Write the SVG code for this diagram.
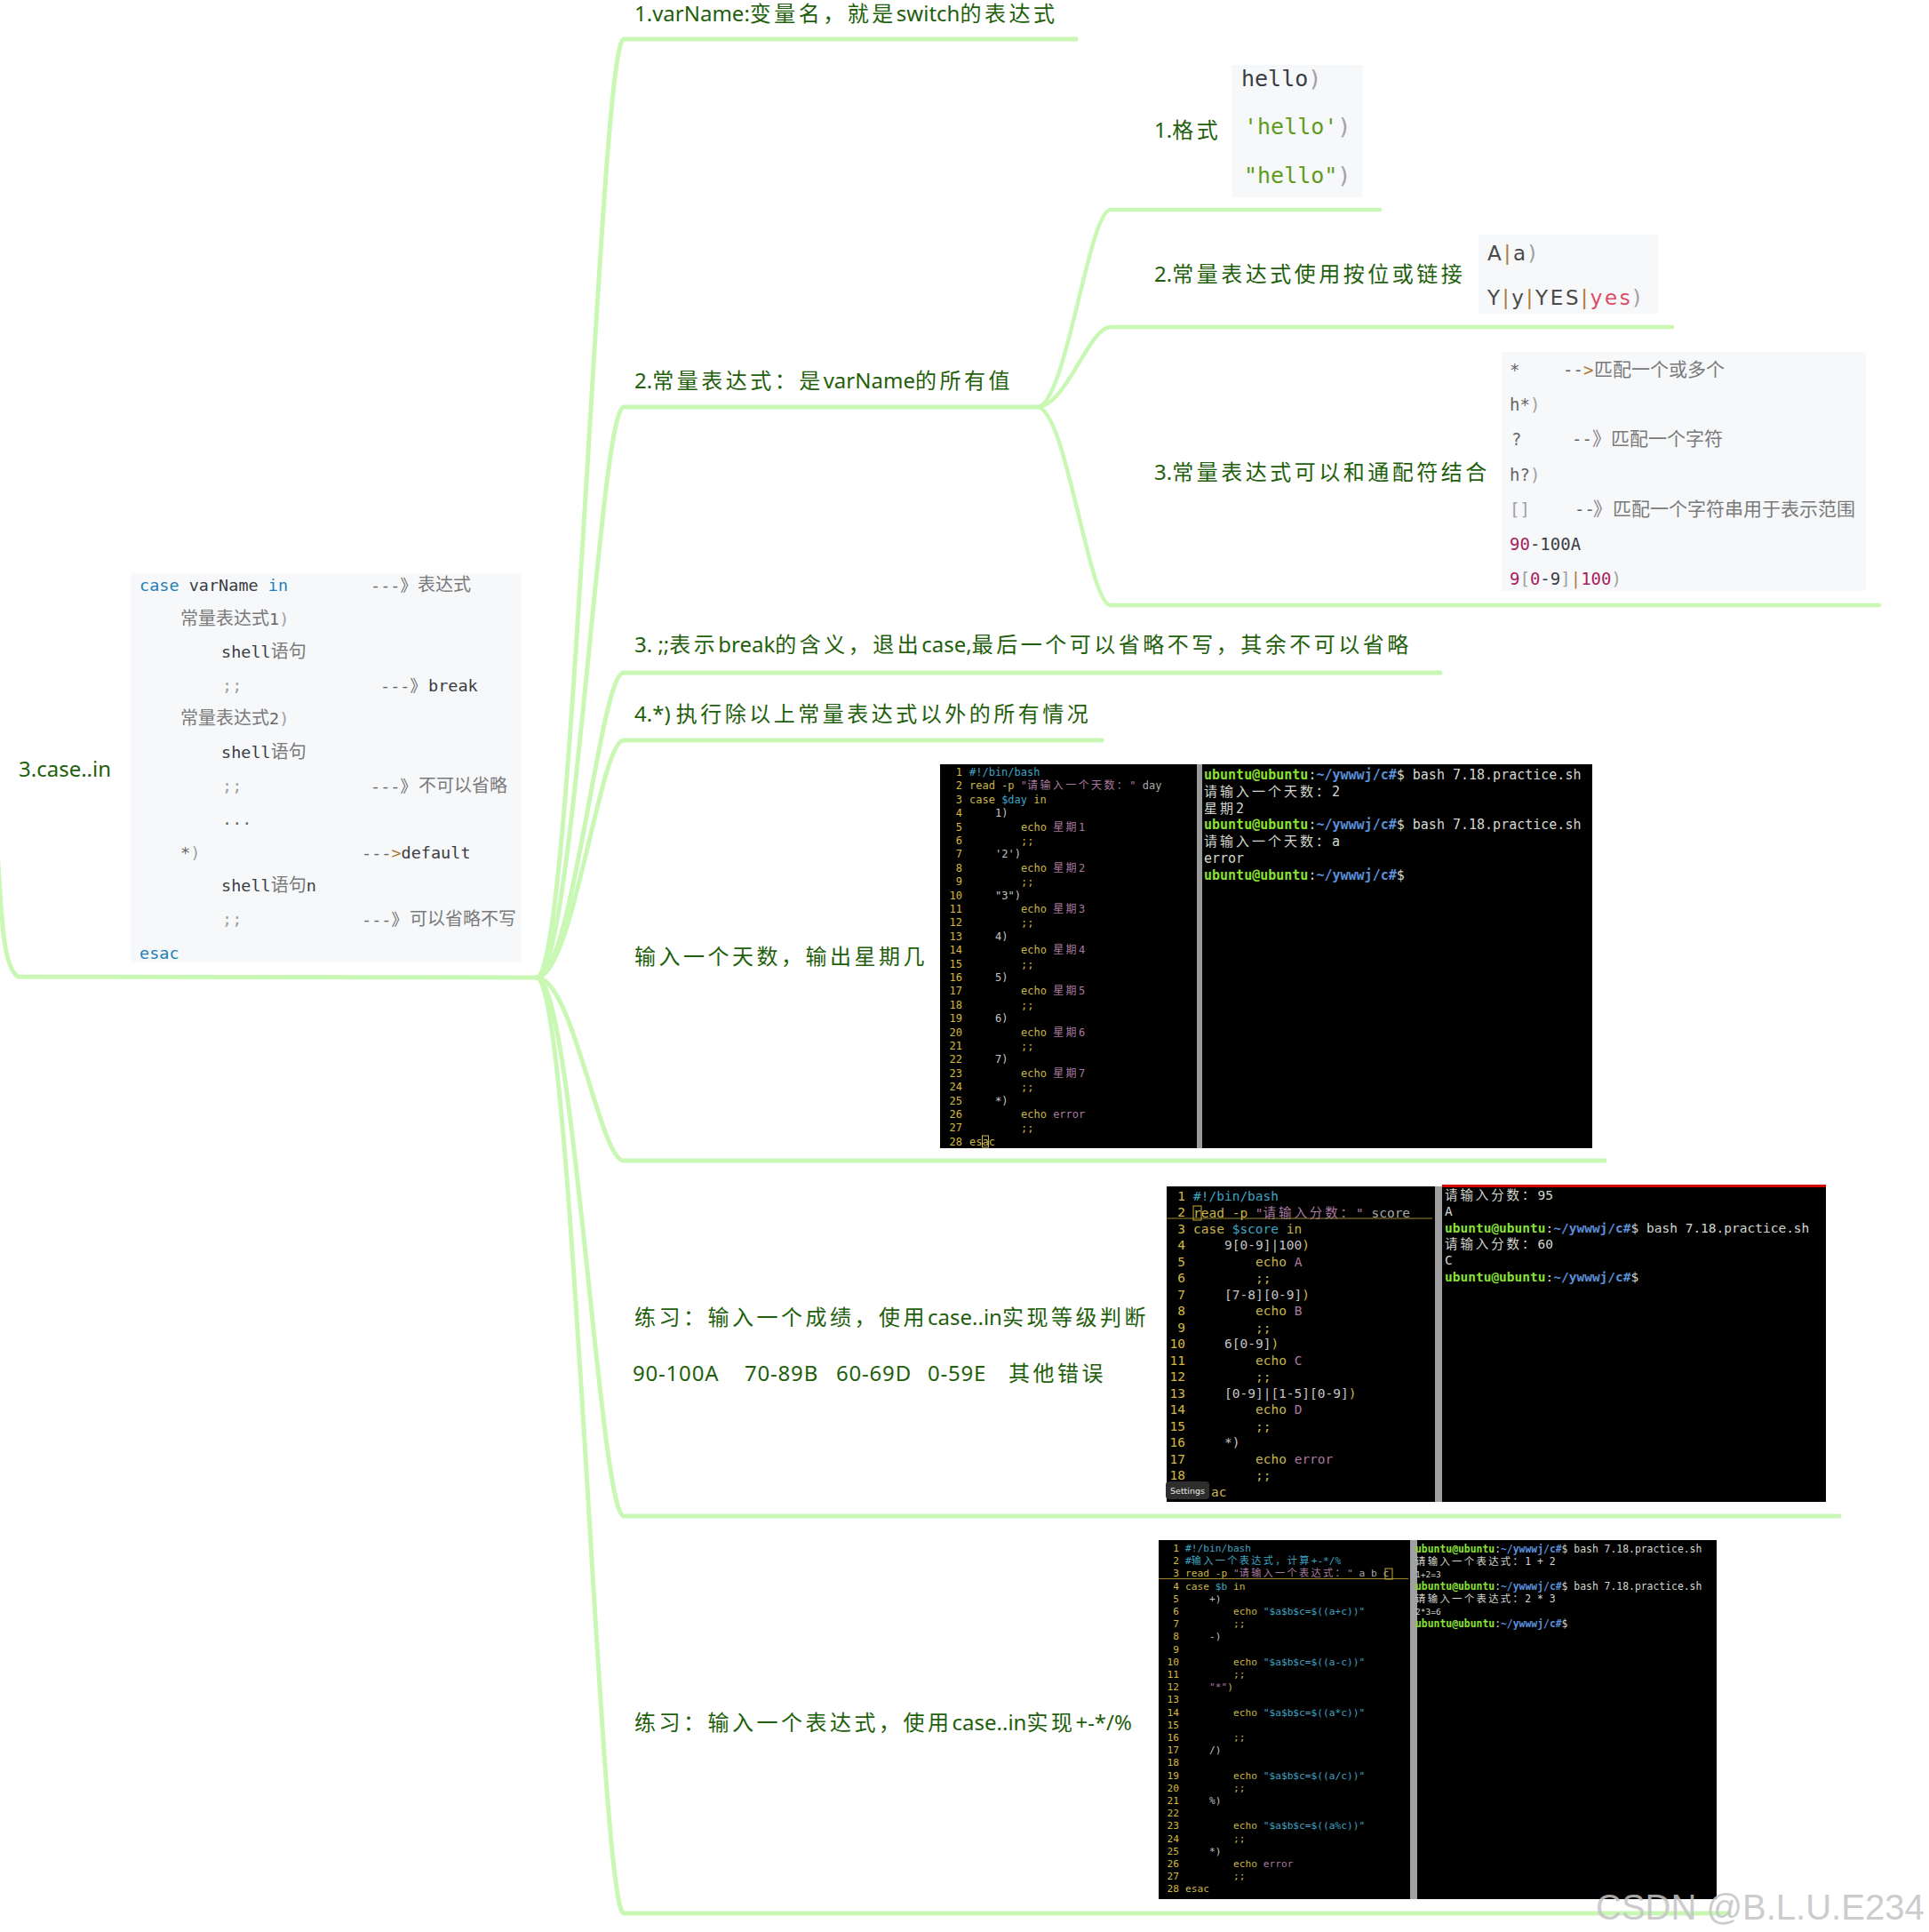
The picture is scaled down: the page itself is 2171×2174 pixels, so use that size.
<svg xmlns="http://www.w3.org/2000/svg" width="2171" height="2174" viewBox="0 0 2171 2174">
<style>
.g{fill:none;stroke:#c8f8b4;stroke-width:5;stroke-linecap:round;stroke-linejoin:round}
.gs{fill:none;stroke:#c8f8b4;stroke-width:4.5;stroke-linecap:round}
.lbl{font-family:"Noto Sans","Noto Sans CJK SC",sans-serif;font-size:24px;fill:#1f600c}
.cj{letter-spacing:3.5px}
.box{fill:#f7f8fa}
.mono{font-family:"DejaVu Sans Mono","Noto Sans CJK SC",monospace}
.zh{font-family:"Noto Sans CJK SC",sans-serif;fill:#7a7a7a}
.dk{fill:#3a3d44}.lg{fill:#a0a0a0}.bl{fill:#1f7fb8}.gr{fill:#666}.br{fill:#b07a3a}.mg{fill:#a8205f}.gn{fill:#5f9b1d}.rd{fill:#dc4a63}
.term{fill:#000}
.tg{fill:#8ae234;font-weight:bold}.tb{fill:#5a8fd8;font-weight:bold}.tw{fill:#d3d7cf}
.vl{fill:#d6b93e}.vk{fill:#c9b54a}.vc{fill:#3ea4c4}.vs{fill:#a9799f}.vg{fill:#a8a8a8}.vp{fill:#c4c4c4}
.t1{font-size:12px}.t1r{font-size:15px}.t2{font-size:14.5px}.t3{font-size:11.2px}.t3r{font-size:11.4px}
.c12{letter-spacing:2.4px}.c15{letter-spacing:3px}.c145{letter-spacing:2.9px}.c11{letter-spacing:2.3px}
</style>
<g id="connectors">
<path class="g" d="M-3,955 C2,1040 4,1088 20,1099 L604,1100"/>
<path class="g" d="M604,1100 C645,1100 675,44 702,44 L1211,44"/>
<path class="g" d="M604,1100 C645,1100 675,458 702,458 L1167,458"/>
<path class="g" d="M604,1100 C645,1100 675,757 702,757 L1621,757"/>
<path class="g" d="M604,1100 C645,1100 675,833 702,833 L1240,833"/>
<path class="g" d="M604,1100 C645,1100 675,1306 702,1306 L1806,1306"/>
<path class="g" d="M604,1100 C645,1100 675,1706 702,1706 L2070,1706"/>
<path class="g" d="M604,1100 C645,1100 675,2153 702,2153 L1946,2153"/>
<path class="gs" d="M1167,458 C1200,458 1225,236 1250,236 L1553,236"/>
<path class="gs" d="M1167,458 C1200,458 1225,368 1250,368 L1882,368"/>
<path class="gs" d="M1167,458 C1200,458 1225,681 1250,681 L2115,681"/>
</g>

<g id="root">
<text class="lbl" x="21" y="874" font-size="25">3.case..in</text>
<rect class="box" x="147" y="645" width="440" height="438"/>
<g class="mono" font-size="18.5" xml:space="preserve">
<text x="157" y="665"><tspan class="bl">case</tspan><tspan class="dk"> varName </tspan><tspan class="bl">in</tspan></text>
<text x="417" y="665" class="gr">---》</text><text x="470" y="665" class="zh" font-size="20">表达式</text>
<text x="203" y="702.6"><tspan class="zh" font-size="20">常量表达式</tspan><tspan class="gr">1</tspan><tspan class="lg">)</tspan></text>
<text x="249" y="740.2"><tspan class="dk">shell</tspan><tspan class="zh" font-size="20">语句</tspan></text>
<text x="250" y="777.8" class="lg">;;</text><text x="428" y="777.8" class="gr">---》</text><text x="482" y="777.8" class="dk">break</text>
<text x="203" y="815.4"><tspan class="zh" font-size="20">常量表达式</tspan><tspan class="gr">2</tspan><tspan class="lg">)</tspan></text>
<text x="249" y="853"><tspan class="dk">shell</tspan><tspan class="zh" font-size="20">语句</tspan></text>
<text x="250" y="890.6" class="lg">;;</text><text x="417" y="890.6" class="gr">---》</text><text x="471" y="890.6" class="zh" font-size="20">不可以省略</text>
<text x="250" y="928.2" class="gr">...</text>
<text x="203" y="965.8"><tspan class="gr">*</tspan><tspan class="lg">)</tspan></text><text x="407" y="965.8"><tspan class="gr">---</tspan><tspan class="br">&gt;</tspan><tspan class="dk">default</tspan></text>
<text x="249" y="1003.4"><tspan class="dk">shell</tspan><tspan class="zh" font-size="20">语句</tspan><tspan class="dk">n</tspan></text>
<text x="250" y="1041" class="lg">;;</text><text x="407" y="1041" class="gr">---》</text><text x="461" y="1041" class="zh" font-size="20">可以省略不写</text>
<text x="157" y="1078.6" class="bl">esac</text>
</g>
</g>

<g id="c1">
<text class="lbl" x="714" y="24">1.varName:<tspan class="cj">变量名，就是</tspan>switch<tspan class="cj">的表达式</tspan></text>
</g>

<g id="c2">
<text class="lbl" x="714" y="437">2.<tspan class="cj">常量表达式：是</tspan>varName<tspan class="cj">的所有值</tspan></text>
</g>

<g id="s1">
<text class="lbl" x="1299" y="155">1.<tspan class="cj">格式</tspan></text>
<rect class="box" x="1386" y="73" width="148" height="149"/>
<g class="mono" font-size="25" xml:space="preserve">
<text x="1397" y="97"><tspan class="dk">hello</tspan><tspan class="lg">)</tspan></text>
<text x="1400" y="151"><tspan class="gn">'hello'</tspan><tspan class="lg">)</tspan></text>
<text x="1400" y="206"><tspan class="gn">"hello"</tspan><tspan class="lg">)</tspan></text>
</g>
</g>

<g id="s2">
<text class="lbl" x="1299" y="317">2.<tspan class="cj">常量表达式使用按位或链接</tspan></text>
<rect class="box" x="1664" y="264" width="202" height="89"/>
<g font-family="DejaVu Sans,sans-serif" font-size="23" letter-spacing="2.7">
<text x="1674" y="293"><tspan fill="#4a4a4a">A</tspan><tspan class="br">|</tspan><tspan fill="#4a4a4a">a</tspan><tspan class="lg">)</tspan></text>
<text x="1674" y="343"><tspan fill="#4a4a4a">Y</tspan><tspan class="br">|</tspan><tspan fill="#4a4a4a">y</tspan><tspan class="br">|</tspan><tspan fill="#4a4a4a">YES</tspan><tspan class="br">|</tspan><tspan class="rd">yes</tspan><tspan class="lg">)</tspan></text>
</g>
</g>

<g id="s3">
<text class="lbl" x="1299" y="540">3.<tspan class="cj">常量表达式可以和通配符结合</tspan></text>
<rect class="box" x="1690" y="396" width="410" height="269"/>
<g class="mono" font-size="19" xml:space="preserve">
<text x="1699" y="423" class="gr">*</text><text x="1759" y="423"><tspan class="gr">--</tspan><tspan class="br">&gt;</tspan></text><text x="1794" y="423" class="zh" font-size="21">匹配一个或多个</text>
<text x="1699" y="462.2"><tspan class="gr">h*</tspan><tspan class="lg">)</tspan></text>
<text x="1701" y="501.4" class="gr">?</text><text x="1769" y="501.4" class="gr">--</text><text x="1792" y="501.4" class="zh" font-size="21">》</text><text x="1813" y="501.4" class="zh" font-size="21">匹配一个字符</text>
<text x="1699" y="540.6"><tspan class="gr">h?</tspan><tspan class="lg">)</tspan></text>
<text x="1699" y="579.8" class="lg">[]</text><text x="1772" y="579.8" class="gr">--</text><text x="1793" y="579.8" class="zh" font-size="21">》</text><text x="1815" y="579.8" class="zh" font-size="21">匹配一个字符串用于表示范围</text>
<text x="1699" y="619"><tspan class="mg">90</tspan><tspan class="dk">-100A</tspan></text>
<text x="1699" y="658.2"><tspan class="mg">9</tspan><tspan class="lg">[</tspan><tspan class="mg">0</tspan><tspan class="dk">-9</tspan><tspan class="lg">]</tspan><tspan class="br">|</tspan><tspan class="mg">100</tspan><tspan class="lg">)</tspan></text>
</g>
</g>

<g id="c3">
<text class="lbl" x="714" y="734">3. ;;<tspan class="cj">表示</tspan>break<tspan class="cj">的含义，退出</tspan>case,<tspan class="cj">最后一个可以省略不写，其余不可以省略</tspan></text>
</g>

<g id="c4">
<text class="lbl" x="714" y="812">4.*) <tspan class="cj">执行除以上常量表达式以外的所有情况</tspan></text>
</g>

<g id="c5">
<text class="lbl" x="714" y="1085"><tspan class="cj">输入一个天数，输出星期几</tspan></text>
<rect class="term" x="1058" y="860" width="734" height="432"/>
<rect x="1347" y="860" width="6" height="432" fill="#9a9a9a"/>
<g class="mono t1" xml:space="preserve">
<text class="vl" text-anchor="end"><tspan x="1083" y="873">1</tspan><tspan x="1083" dy="15.4">2</tspan><tspan x="1083" dy="15.4">3</tspan><tspan x="1083" dy="15.4">4</tspan><tspan x="1083" dy="15.4">5</tspan><tspan x="1083" dy="15.4">6</tspan><tspan x="1083" dy="15.4">7</tspan><tspan x="1083" dy="15.4">8</tspan><tspan x="1083" dy="15.4">9</tspan><tspan x="1083" dy="15.4">10</tspan><tspan x="1083" dy="15.4">11</tspan><tspan x="1083" dy="15.4">12</tspan><tspan x="1083" dy="15.4">13</tspan><tspan x="1083" dy="15.4">14</tspan><tspan x="1083" dy="15.4">15</tspan><tspan x="1083" dy="15.4">16</tspan><tspan x="1083" dy="15.4">17</tspan><tspan x="1083" dy="15.4">18</tspan><tspan x="1083" dy="15.4">19</tspan><tspan x="1083" dy="15.4">20</tspan><tspan x="1083" dy="15.4">21</tspan><tspan x="1083" dy="15.4">22</tspan><tspan x="1083" dy="15.4">23</tspan><tspan x="1083" dy="15.4">24</tspan><tspan x="1083" dy="15.4">25</tspan><tspan x="1083" dy="15.4">26</tspan><tspan x="1083" dy="15.4">27</tspan><tspan x="1083" dy="15.4">28</tspan></text>
<text x="1091" y="873" class="vc">#!/bin/bash</text>
<text x="1091" y="888.4"><tspan class="vk">read -p </tspan><tspan class="vs">"<tspan class="c12">请输入一个天数：</tspan>"</tspan><tspan class="vg"> day</tspan></text>
<text x="1091" y="903.8"><tspan class="vk">case </tspan><tspan class="vc">$day</tspan><tspan class="vk"> in</tspan></text>
<text x="1120" y="919.2" class="vp">1)</text>
<text x="1149" y="934.6"><tspan class="vk">echo </tspan><tspan class="vs"><tspan class="c12">星期</tspan>1</tspan></text>
<text x="1149" y="950" class="vk">;;</text>
<text x="1120" y="965.4" class="vp">'2')</text>
<text x="1149" y="980.8"><tspan class="vk">echo </tspan><tspan class="vs"><tspan class="c12">星期</tspan>2</tspan></text>
<text x="1149" y="996.2" class="vk">;;</text>
<text x="1120" y="1011.6" class="vp">"3")</text>
<text x="1149" y="1027"><tspan class="vk">echo </tspan><tspan class="vs"><tspan class="c12">星期</tspan>3</tspan></text>
<text x="1149" y="1042.4" class="vk">;;</text>
<text x="1120" y="1057.8" class="vp">4)</text>
<text x="1149" y="1073.2"><tspan class="vk">echo </tspan><tspan class="vs"><tspan class="c12">星期</tspan>4</tspan></text>
<text x="1149" y="1088.6" class="vk">;;</text>
<text x="1120" y="1104" class="vp">5)</text>
<text x="1149" y="1119.4"><tspan class="vk">echo </tspan><tspan class="vs"><tspan class="c12">星期</tspan>5</tspan></text>
<text x="1149" y="1134.8" class="vk">;;</text>
<text x="1120" y="1150.2" class="vp">6)</text>
<text x="1149" y="1165.6"><tspan class="vk">echo </tspan><tspan class="vs"><tspan class="c12">星期</tspan>6</tspan></text>
<text x="1149" y="1181" class="vk">;;</text>
<text x="1120" y="1196.4" class="vp">7)</text>
<text x="1149" y="1211.8"><tspan class="vk">echo </tspan><tspan class="vs"><tspan class="c12">星期</tspan>7</tspan></text>
<text x="1149" y="1227.2" class="vk">;;</text>
<text x="1120" y="1242.6" class="vp">*)</text>
<text x="1149" y="1258"><tspan class="vk">echo </tspan><tspan class="vs">error</tspan></text>
<text x="1149" y="1273.4" class="vk">;;</text>
<text x="1091" y="1288.8" class="vk">esac</text>
<rect x="1105.5" y="1278" width="7" height="13" fill="none" stroke="#c9b54a" stroke-width="1"/>
</g>
<g class="mono t1r" xml:space="preserve">
<text x="1355" y="877"><tspan class="tg">ubuntu@ubuntu</tspan><tspan class="tw">:</tspan><tspan class="tb">~/ywwwj/c#</tspan><tspan class="tw">$ bash 7.18.practice.sh</tspan></text>
<text x="1355" y="895.8" class="tw"><tspan class="c15">请输入一个天数：</tspan>2</text>
<text x="1355" y="914.6" class="tw"><tspan class="c15">星期</tspan>2</text>
<text x="1355" y="933.4"><tspan class="tg">ubuntu@ubuntu</tspan><tspan class="tw">:</tspan><tspan class="tb">~/ywwwj/c#</tspan><tspan class="tw">$ bash 7.18.practice.sh</tspan></text>
<text x="1355" y="952.2" class="tw"><tspan class="c15">请输入一个天数：</tspan>a</text>
<text x="1355" y="971" class="tw">error</text>
<text x="1355" y="989.8"><tspan class="tg">ubuntu@ubuntu</tspan><tspan class="tw">:</tspan><tspan class="tb">~/ywwwj/c#</tspan><tspan class="tw">$</tspan></text>
</g>
</g>

<g id="c6">
<text class="lbl" x="714" y="1491"><tspan class="cj">练习：输入一个成绩，使用</tspan>case..in<tspan class="cj">实现等级判断</tspan></text>
<text class="lbl" y="1554" font-size="26" letter-spacing="0.8"><tspan x="712">90-100A</tspan><tspan x="838">70-89B</tspan><tspan x="941">60-69D</tspan><tspan x="1044">0-59E</tspan><tspan x="1135" font-size="24" class="cj">其他错误</tspan></text>
<rect class="term" x="1313" y="1335" width="742" height="355"/>
<rect x="1615" y="1335" width="8" height="355" fill="#a0a0a0"/>
<rect x="1623" y="1333" width="432" height="3" fill="#d40000"/>
<line x1="1313" y1="1371" x2="1612" y2="1371" stroke="#9c8a2c" stroke-width="1.2"/>
<g class="mono t2" xml:space="preserve">
<text class="vl" text-anchor="end"><tspan x="1334" y="1351">1</tspan><tspan x="1334" dy="18.48">2</tspan><tspan x="1334" dy="18.48">3</tspan><tspan x="1334" dy="18.48">4</tspan><tspan x="1334" dy="18.48">5</tspan><tspan x="1334" dy="18.48">6</tspan><tspan x="1334" dy="18.48">7</tspan><tspan x="1334" dy="18.48">8</tspan><tspan x="1334" dy="18.48">9</tspan><tspan x="1334" dy="18.48">10</tspan><tspan x="1334" dy="18.48">11</tspan><tspan x="1334" dy="18.48">12</tspan><tspan x="1334" dy="18.48">13</tspan><tspan x="1334" dy="18.48">14</tspan><tspan x="1334" dy="18.48">15</tspan><tspan x="1334" dy="18.48">16</tspan><tspan x="1334" dy="18.48">17</tspan><tspan x="1334" dy="18.48">18</tspan></text>
<text x="1343" y="1351" class="vc">#!/bin/bash</text>
<text x="1343" y="1369.5"><tspan class="vk">read -p </tspan><tspan class="vs">"<tspan class="c145">请输入分数：</tspan>"</tspan><tspan class="vg"> score</tspan></text>
<rect x="1343" y="1357" width="9" height="16" fill="none" stroke="#c9a83c" stroke-width="1"/>
<text x="1343" y="1388"><tspan class="vk">case </tspan><tspan class="vc">$score</tspan><tspan class="vk"> in</tspan></text>
<text x="1378" y="1406.4"><tspan class="vp">9[0-9]|100</tspan><tspan class="vk">)</tspan></text>
<text x="1413" y="1424.9"><tspan class="vk">echo </tspan><tspan class="vs">A</tspan></text>
<text x="1413" y="1443.4" class="vk">;;</text>
<text x="1378" y="1461.9"><tspan class="vp">[7-8][0-9]</tspan><tspan class="vk">)</tspan></text>
<text x="1413" y="1480.4"><tspan class="vk">echo </tspan><tspan class="vs">B</tspan></text>
<text x="1413" y="1498.8" class="vk">;;</text>
<text x="1378" y="1517.3"><tspan class="vp">6[0-9]</tspan><tspan class="vk">)</tspan></text>
<text x="1413" y="1535.8"><tspan class="vk">echo </tspan><tspan class="vs">C</tspan></text>
<text x="1413" y="1554.3" class="vk">;;</text>
<text x="1378" y="1572.8"><tspan class="vp">[0-9]|[1-5][0-9]</tspan><tspan class="vk">)</tspan></text>
<text x="1413" y="1591.2"><tspan class="vk">echo </tspan><tspan class="vs">D</tspan></text>
<text x="1413" y="1609.7" class="vk">;;</text>
<text x="1378" y="1628.2" class="vp">*)</text>
<text x="1413" y="1646.7"><tspan class="vk">echo </tspan><tspan class="vs">error</tspan></text>
<text x="1413" y="1665.2" class="vk">;;</text>
<text x="1363" y="1683.6" class="vk">ac</text>
</g>
<rect x="1312" y="1667" width="49" height="20" rx="4" fill="#2e2e2e"/>
<text x="1317" y="1680.5" font-family="DejaVu Sans,sans-serif" font-size="9.5" fill="#e8e8e8">Settings</text>
<g class="mono t2" xml:space="preserve">
<text x="1626" y="1350" class="tw"><tspan class="c145">请输入分数：</tspan>95</text>
<text x="1626" y="1368.3" class="tw">A</text>
<text x="1626" y="1386.6"><tspan class="tg">ubuntu@ubuntu</tspan><tspan class="tw">:</tspan><tspan class="tb">~/ywwwj/c#</tspan><tspan class="tw">$ bash 7.18.practice.sh</tspan></text>
<text x="1626" y="1404.9" class="tw"><tspan class="c145">请输入分数：</tspan>60</text>
<text x="1626" y="1423.2" class="tw">C</text>
<text x="1626" y="1441.5"><tspan class="tg">ubuntu@ubuntu</tspan><tspan class="tw">:</tspan><tspan class="tb">~/ywwwj/c#</tspan><tspan class="tw">$</tspan></text>
</g>
</g>

<g id="c7">
<text class="lbl" x="714" y="1947"><tspan class="cj">练习：输入一个表达式，使用</tspan>case..in<tspan class="cj">实现</tspan>+-*/%</text>
<rect class="term" x="1304" y="1733" width="628" height="404"/>
<rect x="1587" y="1733" width="8" height="404" fill="#a0a0a0"/>
<line x1="1304" y1="1776.5" x2="1585" y2="1776.5" stroke="#9c8a2c" stroke-width="1"/>
<g class="mono t3" xml:space="preserve">
<text class="vl" text-anchor="end"><tspan x="1327" y="1746">1</tspan><tspan x="1327" dy="14.2">2</tspan><tspan x="1327" dy="14.2">3</tspan><tspan x="1327" dy="14.2">4</tspan><tspan x="1327" dy="14.2">5</tspan><tspan x="1327" dy="14.2">6</tspan><tspan x="1327" dy="14.2">7</tspan><tspan x="1327" dy="14.2">8</tspan><tspan x="1327" dy="14.2">9</tspan><tspan x="1327" dy="14.2">10</tspan><tspan x="1327" dy="14.2">11</tspan><tspan x="1327" dy="14.2">12</tspan><tspan x="1327" dy="14.2">13</tspan><tspan x="1327" dy="14.2">14</tspan><tspan x="1327" dy="14.2">15</tspan><tspan x="1327" dy="14.2">16</tspan><tspan x="1327" dy="14.2">17</tspan><tspan x="1327" dy="14.2">18</tspan><tspan x="1327" dy="14.2">19</tspan><tspan x="1327" dy="14.2">20</tspan><tspan x="1327" dy="14.2">21</tspan><tspan x="1327" dy="14.2">22</tspan><tspan x="1327" dy="14.2">23</tspan><tspan x="1327" dy="14.2">24</tspan><tspan x="1327" dy="14.2">25</tspan><tspan x="1327" dy="14.2">26</tspan><tspan x="1327" dy="14.2">27</tspan><tspan x="1327" dy="14.2">28</tspan></text>
<text x="1334" y="1746" class="vc">#!/bin/bash</text>
<text x="1334" y="1760.2" class="vc">#<tspan class="c11">输入一个表达式，计算</tspan>+-*/%</text>
<text x="1334" y="1774.4"><tspan class="vk">read -p </tspan><tspan class="vs">"<tspan class="c11">请输入一个表达式：</tspan>"</tspan><tspan class="vg"> a b c</tspan></text>
<rect x="1559" y="1765" width="8" height="12" fill="none" stroke="#c9a83c" stroke-width="1"/>
<text x="1334" y="1788.6"><tspan class="vk">case </tspan><tspan class="vc">$b</tspan><tspan class="vk"> in</tspan></text>
<text x="1361" y="1802.8" class="vp">+)</text>
<text x="1388" y="1817"><tspan class="vk">echo </tspan><tspan class="vc">"$a$b$c=$((a+c))"</tspan></text>
<text x="1388" y="1831.2" class="vk">;;</text>
<text x="1361" y="1845.4" class="vp">-)</text>
<text x="1388" y="1873.8"><tspan class="vk">echo </tspan><tspan class="vc">"$a$b$c=$((a-c))"</tspan></text>
<text x="1388" y="1888" class="vk">;;</text>
<text x="1361" y="1902.2"><tspan class="vs">"*"</tspan><tspan class="vk">)</tspan></text>
<text x="1388" y="1930.6"><tspan class="vk">echo </tspan><tspan class="vc">"$a$b$c=$((a*c))"</tspan></text>
<text x="1388" y="1959" class="vk">;;</text>
<text x="1361" y="1973.2" class="vp">/)</text>
<text x="1388" y="2001.6"><tspan class="vk">echo </tspan><tspan class="vc">"$a$b$c=$((a/c))"</tspan></text>
<text x="1388" y="2015.8" class="vk">;;</text>
<text x="1361" y="2030" class="vp">%)</text>
<text x="1388" y="2058.4"><tspan class="vk">echo </tspan><tspan class="vc">"$a$b$c=$((a%c))"</tspan></text>
<text x="1388" y="2072.6" class="vk">;;</text>
<text x="1361" y="2086.8" class="vp">*)</text>
<text x="1388" y="2101"><tspan class="vk">echo </tspan><tspan class="vs">error</tspan></text>
<text x="1388" y="2115.2" class="vk">;;</text>
<text x="1334" y="2129.4" class="vk">esac</text>
</g>
<g class="mono t3r" xml:space="preserve">
<text x="1593" y="1747"><tspan class="tg">ubuntu@ubuntu</tspan><tspan class="tw">:</tspan><tspan class="tb">~/ywwwj/c#</tspan><tspan class="tw">$ bash 7.18.practice.sh</tspan></text>
<text x="1593" y="1761" class="tw"><tspan class="c11">请输入一个表达式：</tspan>1 + 2</text>
<text x="1593" y="1775" class="tw" font-size="9.5">1+2=3</text>
<text x="1593" y="1789"><tspan class="tg">ubuntu@ubuntu</tspan><tspan class="tw">:</tspan><tspan class="tb">~/ywwwj/c#</tspan><tspan class="tw">$ bash 7.18.practice.sh</tspan></text>
<text x="1593" y="1803" class="tw"><tspan class="c11">请输入一个表达式：</tspan>2 * 3</text>
<text x="1593" y="1817" class="tw" font-size="9.5">2*3=6</text>
<text x="1593" y="1831"><tspan class="tg">ubuntu@ubuntu</tspan><tspan class="tw">:</tspan><tspan class="tb">~/ywwwj/c#</tspan><tspan class="tw">$</tspan></text>
</g>
</g>

<text x="1796" y="2160" font-family="Liberation Sans,Arial,sans-serif" font-size="40" fill="#c4c4c4" opacity="0.85">CSDN @B.L.U.E234</text>
</svg>
